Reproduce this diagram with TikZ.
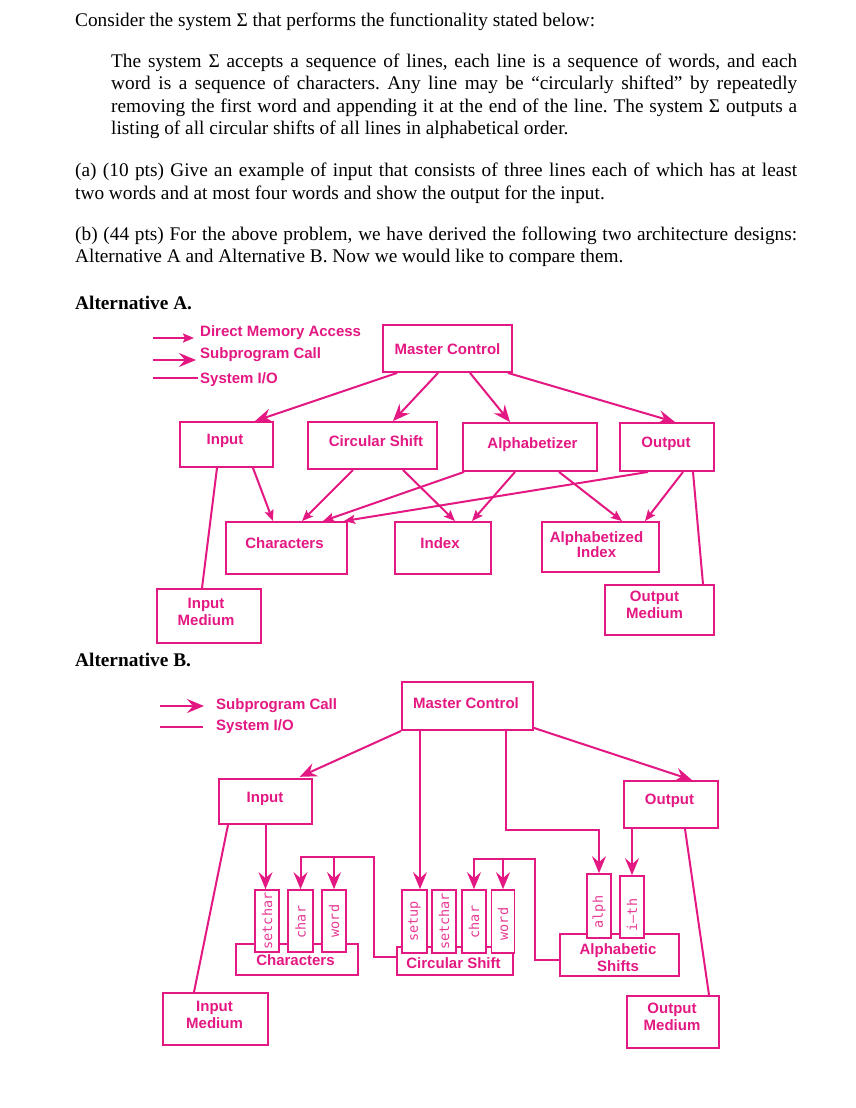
\documentclass[tikz,border=0pt]{standalone}
\usepackage{fontspec}
\setmainfont{Liberation Serif}
\newfontfamily\dfont{Liberation Sans}
\newfontfamily\tfont{DejaVu Sans Mono}
\usetikzlibrary{arrows.meta,calc}
\definecolor{mg}{RGB}{228,24,130}
\frenchspacing
\begin{document}
\begin{tikzpicture}[x=1pt,y=-1pt,
  box/.style={draw=mg,line width=1.9pt,inner sep=0pt},
  lbl/.style={text=mg,font=\dfont\bfseries\fontsize{15}{17}\selectfont,inner sep=0pt,align=center},
  lgt/.style={lbl,anchor=base west},
  tab/.style={draw=mg,line width=1.7pt,fill=white,inner sep=0pt},
  tabt/.style={text=mg!85,font=\tfont\fontsize{13.5}{14}\selectfont,rotate=90,inner sep=0pt},
  io/.style={draw=mg,line width=2pt},
  dma/.style={io,-{Stealth[length=11pt,width=9pt,inset=2pt]}},
  call/.style={io,-{Stealth[length=17pt,width=14pt,inset=6pt]}},
  body/.style={anchor=base west,inner sep=0pt,font=\fontsize{19.3}{22}\selectfont}
]
\useasboundingbox (0,0) rectangle (856,1108);
\fill[white] (0,0) rectangle (856,1108);

% ---------- text ----------
\node[body] (t0) at (75,27) {Consider the system Σ that performs the functionality stated below:};
\node[body] (p1) at (111,67) {\makebox[686pt][s]{The system Σ accepts a sequence of lines, each line is a sequence of words, and each}};
\node[body] (p2) at (111,89.5) {\makebox[686pt][s]{word is a sequence of characters. Any line may be “circularly shifted” by repeatedly}};
\node[body] (p3) at (111,112) {\makebox[686pt][s]{removing the first word and appending it at the end of the line. The system Σ outputs a}};
\node[body] (p4) at (111,134.5) {listing of all circular shifts of all lines in alphabetical order.};
\node[body] (a1) at (75,176.5) {\makebox[722pt][s]{(a) (10 pts) Give an example of input that consists of three lines each of which has at least}};
\node[body] (a2) at (75,199) {two words and at most four words and show the output for the input.};
\node[body] (b1) at (75,240) {\makebox[722pt][s]{(b) (44 pts) For the above problem, we have derived the following two architecture designs:}};
\node[body] (b2) at (75,262.5) {Alternative A and Alternative B. Now we would like to compare them.};
\node[body,font=\bfseries\fontsize{19.3}{22}\selectfont] (altA) at (75,309) {Alternative A.};
\node[body,font=\bfseries\fontsize{19.3}{22}\selectfont] (altB) at (75,666) {Alternative B.};

% ---------- Alternative A ----------
\coordinate (lgA1s) at (153,338); \coordinate (lgA1e) at (194,338);
\coordinate (lgA2s) at (153,360); \coordinate (lgA2e) at (196,360);
\coordinate (lgA3s) at (153,378); \coordinate (lgA3e) at (198,378);
\draw[dma] (lgA1s) -- (lgA1e);
\draw[call] (lgA2s) -- (lgA2e);
\draw[io] (lgA3s) -- (lgA3e);
\node[lgt] (lgA1t) at (200,336) {Direct Memory Access};
\node[lgt] (lgA2t) at (200,358) {Subprogram Call};
\node[lgt] (lgA3t) at (200,383) {System I/O};

\node[box,minimum width=129pt,minimum height=47pt] (mcA) at (447.5,348.5) {};
\node[box,minimum width=93pt,minimum height=45pt] (inA) at (226.5,444.5) {};
\node[box,minimum width=129pt,minimum height=47pt] (csA) at (372.5,445.5) {};
\node[box,minimum width=134pt,minimum height=48pt] (alA) at (530,447) {};
\node[box,minimum width=94pt,minimum height=48pt] (outA) at (667,447) {};
\node[box,minimum width=121pt,minimum height=52pt] (chA) at (286.5,548) {};
\node[box,minimum width=96pt,minimum height=52pt] (ixA) at (443,548) {};
\node[box,minimum width=117pt,minimum height=50pt] (aiA) at (600.5,547) {};
\node[box,minimum width=104pt,minimum height=54pt] (imA) at (209,616) {};
\node[box,minimum width=109pt,minimum height=50pt] (omA) at (659.5,610) {};

\node[lbl] (mcAt) at (447.5,349) {Master Control};
\node[lbl] (inAt) at (225,441) {Input};
\node[lbl] (csAt) at (376,441) {Circular Shift};
\node[lbl] (alAt) at (532.5,445) {Alphabetizer};
\node[lbl] (outAt) at (666,444) {Output};
\node[lbl] (chAt) at (284.5,543) {Characters};
\node[lbl] (ixAt) at (440,543) {Index};
\node[lbl] (aiAt) at (596.5,545) {Alphabetized\\[-2pt]Index};
\node[lbl] (imAt) at (206,612) {Input\\Medium};
\node[lbl] (omAt) at (654.5,604.5) {Output\\Medium};

\draw[call] ([xshift=-50.5pt]mcA.south) -- ([xshift=28.5pt]inA.north);
\draw[call] ([xshift=-9.5pt]mcA.south) -- ([xshift=20.5pt]csA.north);
\draw[call] ([xshift=22.5pt]mcA.south) -- ([xshift=-20pt]alA.north);
\draw[call] ([xshift=-5pt]mcA.south east) -- ([xshift=8pt]outA.north);
\draw[dma] ([xshift=26.5pt]inA.south) -- ([xshift=-13.5pt]chA.north);
\draw[dma] ([xshift=-19.5pt]csA.south) -- ([xshift=15.5pt]chA.north);
\draw[dma] ([xshift=30.5pt]csA.south) -- ([xshift=12pt]ixA.north);
\draw[dma] ([xshift=2pt]alA.south west) -- ([xshift=36.5pt]chA.north);
\draw[dma] ([xshift=-15pt]alA.south) -- ([xshift=29pt]ixA.north);
\draw[dma] ([xshift=29pt]alA.south) -- ([xshift=21.5pt]aiA.north);
\draw[dma] ([xshift=-19pt]outA.south) -- ([xshift=-4pt]chA.north east);
\draw[dma] ([xshift=16pt]outA.south) -- ([xshift=44.5pt]aiA.north);
\draw[io] ([xshift=26pt]outA.south) -- ([xshift=43.5pt]omA.north);
\draw[io] ([xshift=-9.5pt]inA.south) -- ([xshift=-7pt]imA.north);

% ---------- Alternative B ----------
\coordinate (lgB1s) at (160,706); \coordinate (lgB1e) at (204,706);
\coordinate (lgB2s) at (160,727); \coordinate (lgB2e) at (203,727);
\draw[call] (lgB1s) -- (lgB1e);
\draw[io] (lgB2s) -- (lgB2e);
\node[lgt] (lgB1t) at (216,709) {Subprogram Call};
\node[lgt] (lgB2t) at (216,730) {System I/O};

\node[box,minimum width=131pt,minimum height=48pt] (mcB) at (467.5,706) {};
\node[box,minimum width=93pt,minimum height=45pt] (inB) at (265.5,801.5) {};
\node[box,minimum width=94pt,minimum height=47pt] (outB) at (671,804.5) {};
\node[box,minimum width=105pt,minimum height=52pt] (imB) at (215.5,1019) {};
\node[box,minimum width=92pt,minimum height=52pt] (omB) at (673,1022) {};
\node[box,minimum width=122pt,minimum height=31pt] (chB) at (297,959.5) {};
\node[box,minimum width=116pt,minimum height=28pt] (csB) at (455,961) {};
\node[box,minimum width=119pt,minimum height=42pt] (asB) at (619.5,955) {};

\node[tab,minimum width=24pt,minimum height=62pt] (scB) at (267,921) {};
\node[tab,minimum width=25pt,minimum height=62pt] (chrB) at (300.5,921) {};
\node[tab,minimum width=24pt,minimum height=62pt] (wdB) at (334,921) {};
\node[tab,minimum width=25pt,minimum height=63pt] (suB) at (414.5,921.5) {};
\node[tab,minimum width=24pt,minimum height=63pt] (sc2B) at (444,921.5) {};
\node[tab,minimum width=24pt,minimum height=63pt] (ch2B) at (474,921.5) {};
\node[tab,minimum width=23pt,minimum height=63pt] (wd2B) at (503,921.5) {};
\node[tab,minimum width=24pt,minimum height=64pt] (alB) at (599,906) {};
\node[tab,minimum width=24pt,minimum height=62pt] (itB) at (632,907) {};

\node[tabt] (scBt) at (267,921) {setchar};
\node[tabt] (chrBt) at (300.5,922) {char};
\node[tabt] (wdBt) at (334,921) {word};
\node[tabt] (suBt) at (414.5,921.5) {setup};
\node[tabt] (sc2Bt) at (444,921.5) {setchar};
\node[tabt] (ch2Bt) at (474,922) {char};
\node[tabt] (wd2Bt) at (503,924) {word};
\node[tabt] (alBt) at (599,912) {alph};
\node[tabt] (itBt) at (632,915) {i–th};

\node[lbl] (mcBt) at (466,703.5) {Master Control};
\node[lbl] (inBt) at (265,799) {Input};
\node[lbl] (outBt) at (669.5,801) {Output};
\node[lbl] (imBt) at (214.5,1014.5) {Input\\Medium};
\node[lbl] (omBt) at (672,1016.5) {Output\\Medium};
\node[lbl] (chBt) at (295.5,960) {Characters};
\node[lbl] (csBt) at (453.5,963) {Circular Shift};
\node[lbl] (asBt) at (618,958) {Alphabetic\\Shifts};

\draw[call,shorten >=3pt] (mcB.south west) -- ([xshift=31.5pt]inB.north);
\draw[call] ([yshift=3pt]mcB.south east) -- ([xshift=21pt]outB.north);
\draw[call] ([xshift=-47.5pt]mcB.south) -- ([xshift=-47.5pt]mcB.south |- suB.north);
\draw[call] ([xshift=38.5pt]mcB.south) -- ++(0,99) -| (alB.north);
\draw[call] ([xshift=-39pt]outB.south) -- ([xshift=-39pt]outB.south |- itB.north);
\draw[io] ([xshift=14pt]outB.south) -- ([xshift=36pt]omB.north);
\draw[call] (inB.south) -- (inB.south |- scB.north);
\draw[io] ([xshift=-37.5pt]inB.south) -- ([xshift=-21.5pt]imB.north);
\coordinate (cj) at (374,857);
\draw[call] ([yshift=4pt]csB.west) -| (cj) -| (chrB.north);
\draw[call] (wdB.north |- cj) -- (wdB.north);
\coordinate (aj) at (535,859);
\draw[call] ([yshift=-5pt]asB.west) -| (aj) -| (ch2B.north);
\draw[call] (wd2B.north |- aj) -- (wd2B.north);
\end{tikzpicture}
\end{document}
